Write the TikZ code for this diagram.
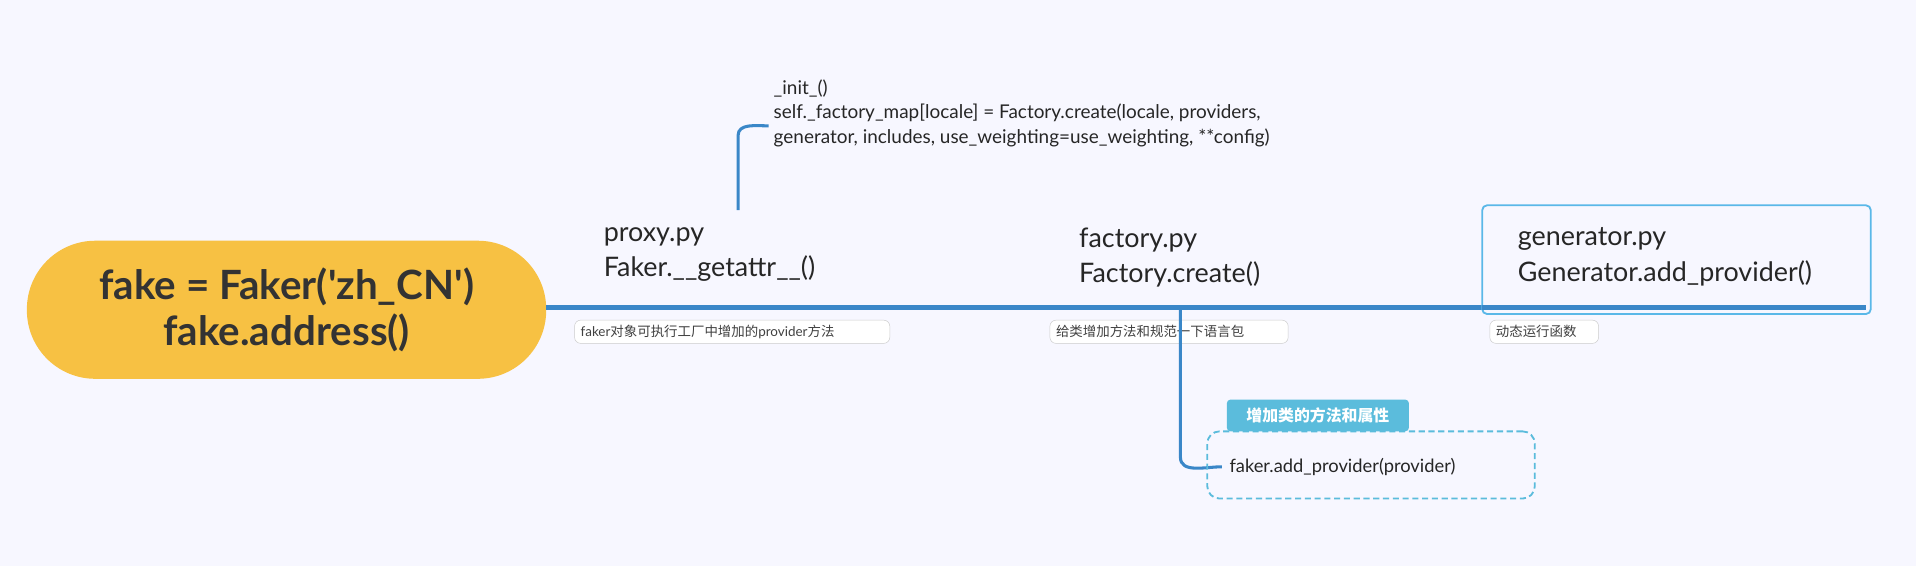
\documentclass[tikz,border=0pt]{standalone}
\usepackage{fontspec}
\setmainfont{Lato}
\newfontfamily\cjk{Noto Sans CJK SC}
\begin{document}
\begin{tikzpicture}[x=1pt,y=-1pt,
  lbl/.style={draw=gray!40,rounded corners=5pt,fill=white,inner xsep=5pt,inner ysep=0pt,minimum height=19pt,font=\fontsize{11}{12}\selectfont,text=black!75,anchor=west},
  big/.style={font=\fontsize{22}{29}\selectfont,text=black!85,anchor=north west,align=left,inner sep=0pt}]
\definecolor{lineblue}{HTML}{3A87C8}
\definecolor{yel}{HTML}{F7C143}
\definecolor{sky}{HTML}{5BBCDC}
\definecolor{gbox}{HTML}{5AB8E8}
\fill[white!97!blue] (0,0) rectangle (1568,463);
\useasboundingbox (0,0) rectangle (1568,463);
\node[fill=yel,rounded corners=56pt,minimum width=425pt,minimum height=113pt,font=\bfseries\fontsize{33}{38}\selectfont,text=black!80,align=center] (root) at (234.5,253.5) {fake = Faker(\textquotesingle zh\_CN\textquotesingle)\\fake.address()};
\coordinate (e) at (1527,252);
\draw[lineblue,line width=4pt] (root.east|-0,252) -- (e);
\node[big] (proxy) at (494,186) {proxy.py\\Faker.\_\_getattr\_\_()};
\node[big] (fac) at (883,186) {factory.py\\Factory.create()};
\node[draw=gbox,line width=1.5pt,rounded corners=4pt,minimum width=318pt,minimum height=89pt] (genbox) at (1372,212.5) {};
\node[big] (gen) at (1242,186) {generator.py\\Generator.add\_provider()};
\draw[lineblue,line width=4pt] (1213,252) -- (e);
\node[lbl,minimum width=258pt,text width=248pt] (l1) at (470,271.5) {faker{\cjk 对象可执行工厂中增加的}provider{\cjk 方法}};
\node[lbl,minimum width=195pt,text width=185pt] (l2) at (859,271.5) {\cjk 给类增加方法和规范一下语言包};
\node[lbl,minimum width=89pt,text width=79pt] (l3) at (1219,271.5) {\cjk 动态运行函数};
\node[anchor=north west,align=left,inner sep=0pt,font=\fontsize{15.5}{20}\selectfont,text=black!85] (init) at (633,65) {\_init\_()\\self.\_factory\_map[locale] = Factory.create(locale, providers,\\generator, includes, use\_weighting=use\_weighting, **config)};
\coordinate (b1) at (604,172);
\coordinate (b1e) at (629,103);
\draw[lineblue,line width=2.5pt] (b1) -- (604,111) to[out=90,in=180] (b1e);
\draw[lineblue,line width=2.5pt] (966,252) -- (966,374) to[out=-90,in=180] (1000,382);
\node[draw=sky,dash pattern=on 5pt off 3pt,line width=1.5pt,rounded corners=10pt,minimum width=268pt,minimum height=55pt] (sub) at (1122,380.5) {};
\node[fill=sky,rounded corners=3pt,minimum width=149pt,minimum height=26pt,text=white,font=\cjk\bfseries\fontsize{13}{15}\selectfont] (hdr) at (1078.5,340) {增加类的方法和属性};
\node[anchor=west,inner sep=0pt,font=\fontsize{15}{16}\selectfont,text=black!85] (sp) at (1006,382) {faker.add\_provider(provider)};
\end{tikzpicture}
\end{document}
